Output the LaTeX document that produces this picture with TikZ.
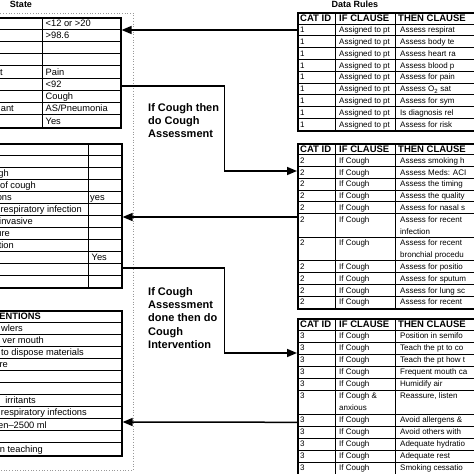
\documentclass[tikz,border=0pt]{standalone}
\usepackage{fontspec}
\setmainfont{Liberation Sans}
\usetikzlibrary{positioning,calc,arrows.meta}

\tikzstyle{tbl} = [draw, line width=1.6pt, rectangle, inner sep=0pt, anchor=north west]
\tikzstyle{grid} = [line width=0.8pt]
\tikzstyle{cell} = [inner sep=0pt, anchor=base west, font=\fontsize{8}{9.6}\selectfont]
\tikzstyle{lcell} = [inner sep=0pt, anchor=base west, font=\fontsize{9.3}{11}\selectfont]
\tikzstyle{cut} = [inner sep=0pt, anchor=base east, font=\fontsize{9.3}{11}\selectfont]
\tikzstyle{head} = [inner sep=0pt, anchor=base west, font=\fontsize{9.5}{11}\selectfont\bfseries]
\tikzstyle{title} = [inner sep=0pt, anchor=base, font=\fontsize{9}{11}\selectfont\bfseries]
\tikzstyle{note} = [inner sep=0pt, anchor=north west, align=left, font=\fontsize{11}{13.4}\selectfont\bfseries]
\tikzstyle{link} = [line width=1.5pt, -{Triangle[length=10pt,width=8pt]}]
\tikzstyle{pane} = [draw=black!40, dotted, line width=0.7pt]

\begin{document}
\begin{tikzpicture}[x=1pt,y=-1pt]
	\useasboundingbox (0,0) rectangle (474,474);
	\fill[white] (0,0) rectangle (474,474);

	% state pane
	\draw[pane] (-5,13) -- (133,13) -- (133,470) -- (-5,470);
	\node[title] (statetitle) at (21,7) {State};
	\node[title] (rulestitle) at (355,7) {Data Rules};

	% state table 1
	\node[tbl, minimum width=160pt, minimum height=110pt] (state1) at (-40,17) {};
	\foreach \k in {1,...,8}
		\draw[grid] (-40,17+12.22*\k) -- (120,17+12.22*\k);
	\draw[grid] (42,17) -- (42,127);
	\foreach \t [count=\k] in {<12 or >20, >98.6, , , Pain, <92, Cough, AS/Pneumonia, Yes}
		\node[lcell] (s1v\k) at (45.5,17+12.22*\k-2.8) {\t};
	\node[cut] (s1c5) at (3,17+12.22*5-2.8) {t};
	\node[cut] (s1c8) at (14,17+12.22*8-2.8) {ant};

	% state table 2
	\node[tbl, minimum width=161pt, minimum height=144pt] (state2) at (-40,143) {};
	\foreach \k in {1,...,11}
		\draw[grid] (-40,143+12*\k) -- (121,143+12*\k);
	\draw[grid] (88,143) -- (88,287);
	\node[lcell] (s2v5) at (90,143+12*5-2.8) {yes};
	\node[lcell] (s2v10) at (91.5,143+12*10-2.8) {Yes};
	\foreach \r/\x/\t in {3/9/gh, 4/36/of cough, 5/12/ons, 6/82/respiratory infection,
			7/33/invasive, 8/10/ure, 9/14/tion}
		\node[cut] (s2c\r) at (\x,143+12*\r-2.8) {\t};

	% state table 3
	\node[tbl, minimum width=161pt, minimum height=145pt] (state3) at (-40,310) {};
	\foreach \k in {1,...,11}
		\draw[grid] (-40,310+12.08*\k) -- (121,310+12.08*\k);
	\node[cut, font=\fontsize{9.3}{11}\selectfont\bfseries] (s3c1) at (41,310+12.08-2.8) {ENTIONS};
	\foreach \r/\x/\t in {2/23/wlers, 3/44/ver mouth, 4/84/to dispose materials, 5/8/are,
			8/36/irritants, 9/87/respiratory infections, 10/47/en--2500 ml, 12/43/n teaching}
		\node[cut] (s3c\r) at (\x,310+12.08*\r-2.8) {\t};

	% rules table 1
	\node[tbl, minimum width=200pt, minimum height=118pt] (rules1) at (297,12) {};
	\foreach \k in {0,...,8}
		\draw[grid] (297,24+11.78*\k) -- (497,24+11.78*\k);
	\draw[grid] (335,12) -- (335,130);
	\draw[grid] (395,12) -- (395,130);
	\node[head] (r1h1) at (300,21.4) {CAT ID};
	\node[head] (r1h2) at (339,21.4) {IF CLAUSE};
	\node[head] (r1h3) at (398,21.4) {THEN CLAUSE};
	\foreach \t [count=\k] in {Assess respirat, Assess body te, Assess heart ra, Assess blood p,
			Assess for pain, Assess O\textsubscript{2} sat, Assess for sym, Is diagnosis rel, Assess for risk} {
		\node[cell] (r1a\k) at (300,24+11.78*\k-3) {1};
		\node[cell] (r1b\k) at (339,24+11.78*\k-3) {Assigned to pt};
		\node[cell] (r1c\k) at (400,24+11.78*\k-3) {\t};
	}

	% rules table 2
	\node[tbl, minimum width=200pt, minimum height=164.9pt] (rules2) at (297,143) {};
	\foreach \y in {154.5,166.3,178.1,189.9,201.7,213.5,237.1,260.7,272.5,284.3,296.1}
		\draw[grid] (297,\y) -- (497,\y);
	\draw[grid] (335,143) -- (335,307.9);
	\draw[grid] (395,143) -- (395,307.9);
	\node[head] (r2h1) at (300,152.2) {CAT ID};
	\node[head] (r2h2) at (339,152.2) {IF CLAUSE};
	\node[head] (r2h3) at (398,152.2) {THEN CLAUSE};
	\foreach \y/\t [count=\k] in {163.3/Assess smoking h, 175.1/Assess Meds: ACI, 186.9/Assess the timing,
			198.7/Assess the quality, 210.5/Assess for nasal s, 222.3/Assess for recent,
			245.9/Assess for recent, 269.5/Assess for positio, 281.3/Assess for sputum,
			293.1/Assess for lung sc, 304.9/Assess for recent} {
		\node[cell] (r2a\k) at (300,\y) {2};
		\node[cell] (r2b\k) at (339,\y) {If Cough};
		\node[cell] (r2c\k) at (400,\y) {\t};
	}
	\node[cell] (r2c6b) at (400,234.1) {infection};
	\node[cell] (r2c7b) at (400,257.7) {bronchial procedu};

	% rules table 3
	\node[tbl, minimum width=200pt, minimum height=162pt] (rules3) at (297,318.3) {};
	\foreach \y in {330,342,354,366,378,390,414,426,438,450,462}
		\draw[grid] (297,\y) -- (497,\y);
	\draw[grid] (335,318.3) -- (335,480);
	\draw[grid] (395,318.3) -- (395,480);
	\node[head] (r3h1) at (300,327.5) {CAT ID};
	\node[head] (r3h2) at (339,327.5) {IF CLAUSE};
	\node[head] (r3h3) at (398,327.5) {THEN CLAUSE};
	\foreach \y/\i/\t [count=\k] in {338.9/If Cough/Position in semifo, 350.9/If Cough/Teach the pt to co,
			362.9/If Cough/Teach the pt how t, 374.9/If Cough/Frequent mouth ca, 386.9/If Cough/Humidify air,
			398.9/If Cough \&/{Reassure, listen}, 422.9/If Cough/Avoid allergens \&,
			434.9/If Cough/Avoid others with, 446.9/If Cough/Adequate hydratio,
			458.9/If Cough/Adequate rest, 470.9/If Cough/Smoking cessatio} {
		\node[cell] (r3a\k) at (300,\y) {3};
		\node[cell] (r3b\k) at (339,\y) {\i};
		\node[cell] (r3c\k) at (400,\y) {\t};
	}
	\node[cell] (r3b6b) at (339,410.9) {anxious};

	% pins
	\node[coordinate, below=18pt of rules1.north west] (r1out) {};
	\node[coordinate, below=13pt of state1.north east] (s1in) {};
	\node[coordinate, below=69pt of state1.north east] (s1out) {};
	\node[coordinate, right=103pt of s1out] (bend1) {};
	\node[coordinate, below=28pt of rules2.north west] (r2in) {};
	\node[coordinate, below=74pt of rules2.north west] (r2out) {};
	\node[coordinate, below=74pt of state2.north east] (s2in) {};
	\node[coordinate, below=125pt of state2.north east] (s2out) {};
	\node[coordinate, right=102pt of s2out] (bend2) {};
	\node[coordinate, below=34.7pt of rules3.north west] (r3in) {};
	\node[coordinate, below=104pt of rules3.north west] (r3out) {};
	\node[coordinate, below=112pt of state3.north east] (s3in) {};

	% links
	\draw[link] (r1out) -- (s1in);
	\draw[link] (s1out) -- (bend1) |- (r2in);
	\draw[link] (r2out) -- (s2in);
	\draw[link] (s2out) -- (bend2) |- (r3in);
	\draw[link] (r3out) -- (s3in);

	% notes
	\node[note] (note1) at (148,103) {If Cough then\\do Cough\\Assessment};
	\node[note] (note2) at (148,287) {If Cough\\Assessment\\done then do\\Cough\\Intervention};
\end{tikzpicture}
\end{document}
